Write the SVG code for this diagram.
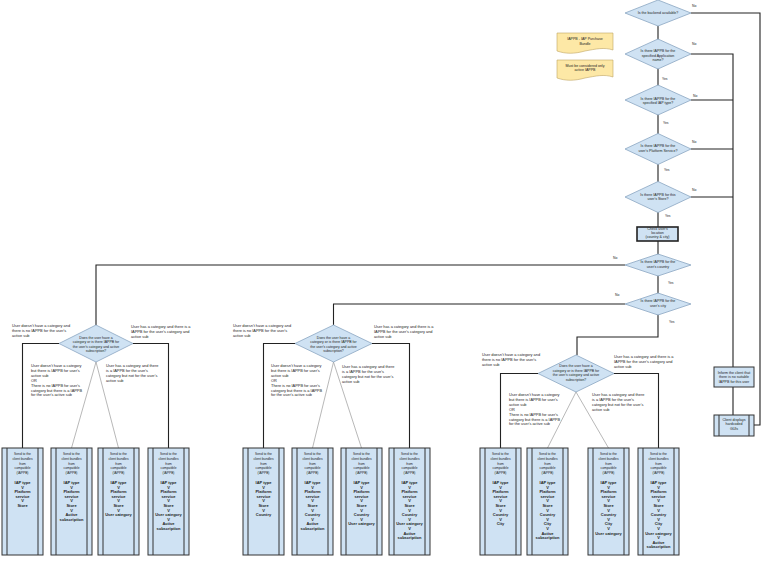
<svg xmlns="http://www.w3.org/2000/svg" width="768" height="572" viewBox="0 0 768 572">
<style>
.dia{fill:#cfe2f3;stroke:#8aa6c1;stroke-width:.8}
.box{fill:#cfe2f3;stroke:#333;stroke-width:1}
.bar{fill:none;stroke:#333;stroke-width:1}
.chk{fill:#cfe2f3;stroke:#222;stroke-width:1.6}
.note{fill:#fde8a6;stroke:#bfa561;stroke-width:.6}
text{font-family:"Liberation Sans",Arial,sans-serif;fill:#222}
.m{text-anchor:middle;font-size:3.6px}
.cd{text-anchor:middle;font-size:3.5px}
.l{font-size:3.9px}
.yn{font-size:3.4px}
.h{text-anchor:middle;font-size:3.3px}
.bd{text-anchor:middle;font-size:4px;font-weight:bold}
.c{fill:none;stroke:#222;stroke-width:1.1}
.dg{fill:none;stroke:#9a9a9a;stroke-width:.7}
</style>
<rect width="768" height="572" fill="#fff"/>

<g id="connectors">
<path class="c" d="M658,26V337H577V355"/>
<path class="c" d="M691,13H760V425H754"/>
<path class="c" d="M691,54H733V367M691,100H733M691,149H733M691,197H733M733,387V415"/>
<path class="c" d="M625,265H96V325"/>
<path class="c" d="M625,304H333.5V325"/>
<path class="c" d="M59,343.5H22.5V448M133,343.5H168.5V448"/>
<path class="c" d="M295,343.5H263.5V448M372,343.5H409.5V448"/>
<path class="c" d="M538,373.5H500.5V448M614,373.5H658.5V448"/>
<path class="dg" d="M96,362L71.5,448M96,362L118.5,448"/>
<path class="dg" d="M333.5,362L312.5,448M333.5,362L361.5,448"/>
<path class="dg" d="M576,392L547.5,448M576,392L608.5,448"/>
<text class="yn" x="692" y="7">No</text>
<text class="yn" x="692" y="45">No</text>
<text class="yn" x="662" y="80">Yes</text>
<text class="yn" x="693" y="97">No</text>
<text class="yn" x="663" y="124">Yes</text>
<text class="yn" x="692" y="143">No</text>
<text class="yn" x="664" y="171">Yes</text>
<text class="yn" x="692" y="191">No</text>
<text class="yn" x="665" y="217">Yes</text>
<text class="yn" x="613" y="259">No</text>
<text class="yn" x="668" y="284">Yes</text>
<text class="yn" x="615" y="296">No</text>
<text class="yn" x="669" y="323">Yes</text>
</g>

<g id="labels">
<text class="l"><tspan x="12" y="327">User doesn't have a category and</tspan><tspan x="12" dy="4.9">there is no IAPPB for the user's</tspan><tspan x="12" dy="4.9">active sub</tspan></text>
<text class="l"><tspan x="131" y="328">User has a category and there is a</tspan><tspan x="131" dy="4.9">IAPPB for the user's category and</tspan><tspan x="131" dy="4.9">active sub</tspan></text>
<text class="l"><tspan x="31" y="367">User doesn't have a category</tspan><tspan x="31" dy="4.9">but there is IAPPB for user's</tspan><tspan x="31" dy="4.9">active sub</tspan><tspan x="31" dy="4.9">OR</tspan><tspan x="31" dy="4.9">There is no IAPPB for user's</tspan><tspan x="31" dy="4.9">category but there is a IAPPB</tspan><tspan x="31" dy="4.9">for the user's active sub</tspan></text>
<text class="l"><tspan x="106" y="367">User has a category and there</tspan><tspan x="106" dy="4.9">is a IAPPB for the user's</tspan><tspan x="106" dy="4.9">category but not for the user's</tspan><tspan x="106" dy="4.9">active sub</tspan></text>

<text class="l"><tspan x="233" y="327">User doesn't have a category and</tspan><tspan x="233" dy="4.9">there is no IAPPB for the user's</tspan><tspan x="233" dy="4.9">active sub</tspan></text>
<text class="l"><tspan x="374" y="328">User has a category and there is a</tspan><tspan x="374" dy="4.9">IAPPB for the user's category and</tspan><tspan x="374" dy="4.9">active sub</tspan></text>
<text class="l"><tspan x="271" y="367">User doesn't have a category</tspan><tspan x="271" dy="4.9">but there is IAPPB for user's</tspan><tspan x="271" dy="4.9">active sub</tspan><tspan x="271" dy="4.9">OR</tspan><tspan x="271" dy="4.9">There is no IAPPB for user's</tspan><tspan x="271" dy="4.9">category but there is a IAPPB</tspan><tspan x="271" dy="4.9">for the user's active sub</tspan></text>
<text class="l"><tspan x="342" y="368">User has a category and there</tspan><tspan x="342" dy="4.9">is a IAPPB for the user's</tspan><tspan x="342" dy="4.9">category but not for the user's</tspan><tspan x="342" dy="4.9">active sub</tspan></text>

<text class="l"><tspan x="482" y="356">User doesn't have a category and</tspan><tspan x="482" dy="4.9">there is no IAPPB for the user's</tspan><tspan x="482" dy="4.9">active sub</tspan></text>
<text class="l"><tspan x="614" y="358">User has a category and there is a</tspan><tspan x="614" dy="4.9">IAPPB for the user's category and</tspan><tspan x="614" dy="4.9">active sub</tspan></text>
<text class="l"><tspan x="509" y="396">User doesn't have a category</tspan><tspan x="509" dy="4.9">but there is IAPPB for user's</tspan><tspan x="509" dy="4.9">active sub</tspan><tspan x="509" dy="4.9">OR</tspan><tspan x="509" dy="4.9">There is no IAPPB for user's</tspan><tspan x="509" dy="4.9">category but there is a IAPPB</tspan><tspan x="509" dy="4.9">for the user's active sub</tspan></text>
<text class="l"><tspan x="592" y="396">User has a category and there</tspan><tspan x="592" dy="4.9">is a IAPPB for the user's</tspan><tspan x="592" dy="4.9">category but not for the user's</tspan><tspan x="592" dy="4.9">active sub</tspan></text>
</g>

<g id="note-iappb">
<path class="note" d="M557,33H613V50C604,47 596,49 585,51C574,54 566,54 557,51Z"/>
<text class="m"><tspan x="585" y="40">IAPPB - IAP Purchase</tspan><tspan x="585" dy="4.6">Bundle</tspan></text>
</g>
<g id="note-active">
<path class="note" d="M557,60H613V77C604,74 596,76 585,78C574,81 566,81 557,78Z"/>
<text class="m"><tspan x="585" y="66.5">Must be considered only</tspan><tspan x="585" dy="4.6">active IAPPB</tspan></text>
</g>

<g id="d-backend">
<polygon class="dia" points="658,0 691,13 658,26 625,13"/>
<text class="m" x="658" y="14.3">Is the backend available?</text>
</g>
<g id="d-appname">
<polygon class="dia" points="658,39 691,54 658,69 625,54"/>
<text class="m"><tspan x="658" y="52">Is there IAPPB for the</tspan><tspan x="658" dy="4.5">specified Application</tspan><tspan x="658" dy="4.5">name?</tspan></text>
</g>
<g id="d-iaptype">
<polygon class="dia" points="658,85 691,100 658,115 625,100"/>
<text class="m"><tspan x="658" y="99.5">Is there IAPPB for the</tspan><tspan x="658" dy="4.5">specified IAP type?</tspan></text>
</g>
<g id="d-platform">
<polygon class="dia" points="658,133.5 691,149 658,164.5 625,149"/>
<text class="m"><tspan x="658" y="147">Is there IAPPB for the</tspan><tspan x="658" dy="4.5">user's Platform Service?</tspan></text>
</g>
<g id="d-store">
<polygon class="dia" points="658,181.5 691,197 658,212.5 625,197"/>
<text class="m"><tspan x="658" y="195.5">Is there IAPPB for this</tspan><tspan x="658" dy="4.5">user's Store?</tspan></text>
</g>
<g id="check-location">
<rect class="chk" x="637" y="227" width="41" height="14"/>
<text class="m"><tspan x="657.5" y="229.8">Check user's</tspan><tspan x="657.5" dy="4.3">location</tspan><tspan x="657.5" dy="4.3">(country &amp; city)</tspan></text>
</g>
<g id="d-country">
<polygon class="dia" points="658,254 691,265 658,276 625,265"/>
<text class="m"><tspan x="658" y="263">Is there IAPPB for the</tspan><tspan x="658" dy="4.5">user's country</tspan></text>
</g>
<g id="d-city">
<polygon class="dia" points="658,293 691,304 658,315 625,304"/>
<text class="m"><tspan x="658" y="302">Is there IAPPB for the</tspan><tspan x="658" dy="4.5">user's city</tspan></text>
</g>

<g id="d-cat-left">
<polygon class="dia" points="96,325 133,343.5 96,362 59,343.5"/>
<text class="cd"><tspan x="96" y="338.5">Does the user have a</tspan><tspan x="96" dy="4.5">category or is there IAPPB for</tspan><tspan x="96" dy="4.5">the user's category and active</tspan><tspan x="96" dy="4.5">subscription?</tspan></text>
</g>
<g id="d-cat-mid">
<polygon class="dia" points="333.5,325 372,343.5 333.5,362 295,343.5"/>
<text class="cd"><tspan x="333.5" y="338.5">Does the user have a</tspan><tspan x="333.5" dy="4.5">category or is there IAPPB for</tspan><tspan x="333.5" dy="4.5">the user's category and active</tspan><tspan x="333.5" dy="4.5">subscription?</tspan></text>
</g>
<g id="d-cat-right">
<polygon class="dia" points="576,355 614,373.5 576,392 538,373.5"/>
<text class="cd"><tspan x="576" y="367">Does the user have a</tspan><tspan x="576" dy="4.5">category or is there IAPPB for</tspan><tspan x="576" dy="4.5">the user's category and active</tspan><tspan x="576" dy="4.5">subscription?</tspan></text>
</g>

<g id="inform-client">
<rect class="box" x="714" y="367" width="40" height="20"/>
<text class="m"><tspan x="734" y="373.5">Inform the client that</tspan><tspan x="734" dy="4.5">there is no suitable</tspan><tspan x="734" dy="4.5">IAPPB for this user</tspan></text>
</g>
<g id="client-hardcoded">
<rect class="box" x="714" y="415" width="40" height="21"/>
<path class="bar" d="M719,415V436M749,415V436"/>
<text class="m"><tspan x="734" y="420.5">Client displays</tspan><tspan x="734" dy="4.5">hardcoded</tspan><tspan x="734" dy="4.5">GUIs</tspan></text>
</g>

<g id="leaf-l1">
<rect class="box" x="2" y="448" width="41" height="107"/><path class="bar" d="M7,448V555M38,448V555"/>
<text class="h"><tspan x="22.5" y="455">Send to the</tspan><tspan x="22.5" dy="4.8">client bundles</tspan><tspan x="22.5" dy="4.8">from</tspan><tspan x="22.5" dy="4.8">compatible</tspan><tspan x="22.5" dy="4.8">(IAPPB)</tspan></text>
<text class="bd"><tspan x="22.5" y="484">IAP type</tspan><tspan x="22.5" dy="4.6">V</tspan><tspan x="22.5" dy="4.6">Platform</tspan><tspan x="22.5" dy="4.6">service</tspan><tspan x="22.5" dy="4.6">V</tspan><tspan x="22.5" dy="4.6">Store</tspan></text>
</g>
<g id="leaf-l2">
<rect class="box" x="51" y="448" width="41" height="107"/><path class="bar" d="M56,448V555M87,448V555"/>
<text class="h"><tspan x="71.5" y="455">Send to the</tspan><tspan x="71.5" dy="4.8">client bundles</tspan><tspan x="71.5" dy="4.8">from</tspan><tspan x="71.5" dy="4.8">compatible</tspan><tspan x="71.5" dy="4.8">(IAPPB)</tspan></text>
<text class="bd"><tspan x="71.5" y="484">IAP type</tspan><tspan x="71.5" dy="4.6">V</tspan><tspan x="71.5" dy="4.6">Platform</tspan><tspan x="71.5" dy="4.6">service</tspan><tspan x="71.5" dy="4.6">V</tspan><tspan x="71.5" dy="4.6">Store</tspan><tspan x="71.5" dy="4.6">V</tspan><tspan x="71.5" dy="4.6">Active</tspan><tspan x="71.5" dy="4.6">subscription</tspan></text>
</g>
<g id="leaf-l3">
<rect class="box" x="98" y="448" width="41" height="107"/><path class="bar" d="M103,448V555M134,448V555"/>
<text class="h"><tspan x="118.5" y="455">Send to the</tspan><tspan x="118.5" dy="4.8">client bundles</tspan><tspan x="118.5" dy="4.8">from</tspan><tspan x="118.5" dy="4.8">compatible</tspan><tspan x="118.5" dy="4.8">(IAPPB)</tspan></text>
<text class="bd"><tspan x="118.5" y="484">IAP type</tspan><tspan x="118.5" dy="4.6">V</tspan><tspan x="118.5" dy="4.6">Platform</tspan><tspan x="118.5" dy="4.6">service</tspan><tspan x="118.5" dy="4.6">V</tspan><tspan x="118.5" dy="4.6">Store</tspan><tspan x="118.5" dy="4.6">V</tspan><tspan x="118.5" dy="4.6">User category</tspan></text>
</g>
<g id="leaf-l4">
<rect class="box" x="148" y="448" width="41" height="107"/><path class="bar" d="M153,448V555M184,448V555"/>
<text class="h"><tspan x="168.5" y="455">Send to the</tspan><tspan x="168.5" dy="4.8">client bundles</tspan><tspan x="168.5" dy="4.8">from</tspan><tspan x="168.5" dy="4.8">compatible</tspan><tspan x="168.5" dy="4.8">(IAPPB)</tspan></text>
<text class="bd"><tspan x="168.5" y="484">IAP type</tspan><tspan x="168.5" dy="4.6">V</tspan><tspan x="168.5" dy="4.6">Platform</tspan><tspan x="168.5" dy="4.6">service</tspan><tspan x="168.5" dy="4.6">V</tspan><tspan x="168.5" dy="4.6">Store</tspan><tspan x="168.5" dy="4.6">V</tspan><tspan x="168.5" dy="4.6">User category</tspan><tspan x="168.5" dy="4.6">V</tspan><tspan x="168.5" dy="4.6">Active</tspan><tspan x="168.5" dy="4.6">subscription</tspan></text>
</g>

<g id="leaf-m1">
<rect class="box" x="243" y="448" width="41" height="107"/><path class="bar" d="M248,448V555M279,448V555"/>
<text class="h"><tspan x="263.5" y="455">Send to the</tspan><tspan x="263.5" dy="4.8">client bundles</tspan><tspan x="263.5" dy="4.8">from</tspan><tspan x="263.5" dy="4.8">compatible</tspan><tspan x="263.5" dy="4.8">(IAPPB)</tspan></text>
<text class="bd"><tspan x="263.5" y="484">IAP type</tspan><tspan x="263.5" dy="4.6">V</tspan><tspan x="263.5" dy="4.6">Platform</tspan><tspan x="263.5" dy="4.6">service</tspan><tspan x="263.5" dy="4.6">V</tspan><tspan x="263.5" dy="4.6">Store</tspan><tspan x="263.5" dy="4.6">V</tspan><tspan x="263.5" dy="4.6">Country</tspan></text>
</g>
<g id="leaf-m2">
<rect class="box" x="292" y="448" width="41" height="107"/><path class="bar" d="M297,448V555M328,448V555"/>
<text class="h"><tspan x="312.5" y="455">Send to the</tspan><tspan x="312.5" dy="4.8">client bundles</tspan><tspan x="312.5" dy="4.8">from</tspan><tspan x="312.5" dy="4.8">compatible</tspan><tspan x="312.5" dy="4.8">(IAPPB)</tspan></text>
<text class="bd"><tspan x="312.5" y="484">IAP type</tspan><tspan x="312.5" dy="4.6">V</tspan><tspan x="312.5" dy="4.6">Platform</tspan><tspan x="312.5" dy="4.6">service</tspan><tspan x="312.5" dy="4.6">V</tspan><tspan x="312.5" dy="4.6">Store</tspan><tspan x="312.5" dy="4.6">V</tspan><tspan x="312.5" dy="4.6">Country</tspan><tspan x="312.5" dy="4.6">V</tspan><tspan x="312.5" dy="4.6">Active</tspan><tspan x="312.5" dy="4.6">subscription</tspan></text>
</g>
<g id="leaf-m3">
<rect class="box" x="341" y="448" width="41" height="107"/><path class="bar" d="M346,448V555M377,448V555"/>
<text class="h"><tspan x="361.5" y="455">Send to the</tspan><tspan x="361.5" dy="4.8">client bundles</tspan><tspan x="361.5" dy="4.8">from</tspan><tspan x="361.5" dy="4.8">compatible</tspan><tspan x="361.5" dy="4.8">(IAPPB)</tspan></text>
<text class="bd"><tspan x="361.5" y="484">IAP type</tspan><tspan x="361.5" dy="4.6">V</tspan><tspan x="361.5" dy="4.6">Platform</tspan><tspan x="361.5" dy="4.6">service</tspan><tspan x="361.5" dy="4.6">V</tspan><tspan x="361.5" dy="4.6">Store</tspan><tspan x="361.5" dy="4.6">V</tspan><tspan x="361.5" dy="4.6">Country</tspan><tspan x="361.5" dy="4.6">V</tspan><tspan x="361.5" dy="4.6">User category</tspan></text>
</g>
<g id="leaf-m4">
<rect class="box" x="389" y="448" width="41" height="107"/><path class="bar" d="M394,448V555M425,448V555"/>
<text class="h"><tspan x="409.5" y="455">Send to the</tspan><tspan x="409.5" dy="4.8">client bundles</tspan><tspan x="409.5" dy="4.8">from</tspan><tspan x="409.5" dy="4.8">compatible</tspan><tspan x="409.5" dy="4.8">(IAPPB)</tspan></text>
<text class="bd"><tspan x="409.5" y="484">IAP type</tspan><tspan x="409.5" dy="4.6">V</tspan><tspan x="409.5" dy="4.6">Platform</tspan><tspan x="409.5" dy="4.6">service</tspan><tspan x="409.5" dy="4.6">V</tspan><tspan x="409.5" dy="4.6">Store</tspan><tspan x="409.5" dy="4.6">V</tspan><tspan x="409.5" dy="4.6">Country</tspan><tspan x="409.5" dy="4.6">V</tspan><tspan x="409.5" dy="4.6">User category</tspan><tspan x="409.5" dy="4.6">V</tspan><tspan x="409.5" dy="4.6">Active</tspan><tspan x="409.5" dy="4.6">subscription</tspan></text>
</g>

<g id="leaf-r1">
<rect class="box" x="480" y="448" width="41" height="107"/><path class="bar" d="M485,448V555M516,448V555"/>
<text class="h"><tspan x="500.5" y="455">Send to the</tspan><tspan x="500.5" dy="4.8">client bundles</tspan><tspan x="500.5" dy="4.8">from</tspan><tspan x="500.5" dy="4.8">compatible</tspan><tspan x="500.5" dy="4.8">(IAPPB)</tspan></text>
<text class="bd"><tspan x="500.5" y="484">IAP type</tspan><tspan x="500.5" dy="4.6">V</tspan><tspan x="500.5" dy="4.6">Platform</tspan><tspan x="500.5" dy="4.6">service</tspan><tspan x="500.5" dy="4.6">V</tspan><tspan x="500.5" dy="4.6">Store</tspan><tspan x="500.5" dy="4.6">V</tspan><tspan x="500.5" dy="4.6">Country</tspan><tspan x="500.5" dy="4.6">V</tspan><tspan x="500.5" dy="4.6">City</tspan></text>
</g>
<g id="leaf-r2">
<rect class="box" x="527" y="448" width="41" height="107"/><path class="bar" d="M532,448V555M563,448V555"/>
<text class="h"><tspan x="547.5" y="455">Send to the</tspan><tspan x="547.5" dy="4.8">client bundles</tspan><tspan x="547.5" dy="4.8">from</tspan><tspan x="547.5" dy="4.8">compatible</tspan><tspan x="547.5" dy="4.8">(IAPPB)</tspan></text>
<text class="bd"><tspan x="547.5" y="484">IAP type</tspan><tspan x="547.5" dy="4.6">V</tspan><tspan x="547.5" dy="4.6">Platform</tspan><tspan x="547.5" dy="4.6">service</tspan><tspan x="547.5" dy="4.6">V</tspan><tspan x="547.5" dy="4.6">Store</tspan><tspan x="547.5" dy="4.6">V</tspan><tspan x="547.5" dy="4.6">Country</tspan><tspan x="547.5" dy="4.6">V</tspan><tspan x="547.5" dy="4.6">City</tspan><tspan x="547.5" dy="4.6">V</tspan><tspan x="547.5" dy="4.6">Active</tspan><tspan x="547.5" dy="4.6">subscription</tspan></text>
</g>
<g id="leaf-r3">
<rect class="box" x="588" y="448" width="41" height="107"/><path class="bar" d="M593,448V555M624,448V555"/>
<text class="h"><tspan x="608.5" y="455">Send to the</tspan><tspan x="608.5" dy="4.8">client bundles</tspan><tspan x="608.5" dy="4.8">from</tspan><tspan x="608.5" dy="4.8">compatible</tspan><tspan x="608.5" dy="4.8">(IAPPB)</tspan></text>
<text class="bd"><tspan x="608.5" y="484">IAP type</tspan><tspan x="608.5" dy="4.6">V</tspan><tspan x="608.5" dy="4.6">Platform</tspan><tspan x="608.5" dy="4.6">service</tspan><tspan x="608.5" dy="4.6">V</tspan><tspan x="608.5" dy="4.6">Store</tspan><tspan x="608.5" dy="4.6">V</tspan><tspan x="608.5" dy="4.6">Country</tspan><tspan x="608.5" dy="4.6">V</tspan><tspan x="608.5" dy="4.6">City</tspan><tspan x="608.5" dy="4.6">V</tspan><tspan x="608.5" dy="4.6">User category</tspan></text>
</g>
<g id="leaf-r4">
<rect class="box" x="638" y="448" width="41" height="107"/><path class="bar" d="M643,448V555M674,448V555"/>
<text class="h"><tspan x="658.5" y="455">Send to the</tspan><tspan x="658.5" dy="4.8">client bundles</tspan><tspan x="658.5" dy="4.8">from</tspan><tspan x="658.5" dy="4.8">compatible</tspan><tspan x="658.5" dy="4.8">(IAPPB)</tspan></text>
<text class="bd"><tspan x="658.5" y="484">IAP type</tspan><tspan x="658.5" dy="4.6">V</tspan><tspan x="658.5" dy="4.6">Platform</tspan><tspan x="658.5" dy="4.6">service</tspan><tspan x="658.5" dy="4.6">V</tspan><tspan x="658.5" dy="4.6">Store</tspan><tspan x="658.5" dy="4.6">V</tspan><tspan x="658.5" dy="4.6">Country</tspan><tspan x="658.5" dy="4.6">V</tspan><tspan x="658.5" dy="4.6">City</tspan><tspan x="658.5" dy="4.6">V</tspan><tspan x="658.5" dy="4.6">User category</tspan><tspan x="658.5" dy="4.6">V</tspan><tspan x="658.5" dy="4.6">Active</tspan><tspan x="658.5" dy="4.6">subscription</tspan></text>
</g>
</svg>
